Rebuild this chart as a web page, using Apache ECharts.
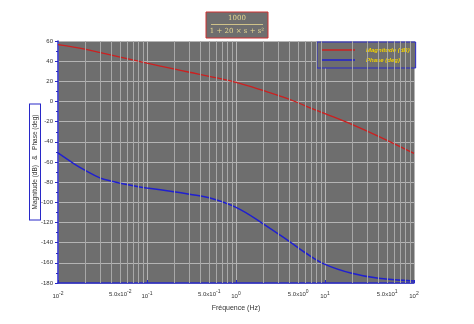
<!DOCTYPE html>
<html>
<head>
<meta charset="utf-8">
<script src="https://cdn.jsdelivr.net/npm/echarts@6/dist/echarts.min.js"></script>
<style>
html,body{margin:0;padding:0;background:#fff;}
#c{width:474px;height:324px;}
</style>
</head>
<body>
<div id="c"></div>
<script>
// ---- data ----
var freq      = [0.01, 0.015, 0.02, 0.03, 0.04, 0.05, 0.08, 0.1, 0.2, 0.3, 0.5, 1, 2, 4, 6, 10, 20, 40, 100];
var magnitude = [56.3, 54, 52, 48.5, 46, 44, 40, 38, 32.4, 29, 25, 19, 11, 2.2, -4.3, -12, -22.7, -34.6, -51.5];
var phase     = [-51, -61.5, -68, -76, -79, -81, -84.5, -85.8, -89.5, -92, -95.5, -105, -121, -139, -150, -161.5, -170.4, -175.4, -178];
var yTicks = [-180, -160, -140, -120, -100, -80, -60, -40, -20, 0, 20, 40, 60];
var minorGrid = [0.02,0.03,0.04,0.05,0.06,0.07,0.08,0.09,
                 0.2,0.3,0.4,0.5,0.6,0.7,0.8,0.9,
                 2,3,4,5,6,7,8,9,
                 20,30,40,50,60,70,80,90];
var halfLabels = [0.05, 0.5, 5, 50];
var titleNum = '1000';
var titleDen = '1 + 20 × s + s²';

function pair(a, b){ return a.map(function(v,i){ return [v, b[i]]; }); }
function sup(v){
  var e = Math.round(Math.log10(v));
  return '{b|10}{s|' + e + '}';
}
function halfSup(v){
  var e = Math.round(Math.log10(v/5));
  return '{b|5.0x10}{s|' + e + '}';
}
var rich = {
  b: {fontSize: 6, color: '#333', fontFamily: 'Liberation Sans'},
  s: {fontSize: 5, color: '#333', fontFamily: 'Liberation Sans', padding: [0,0,6,0]}
};

var chart = echarts.init(document.getElementById('c'), null, {renderer: 'canvas'});
var gridMarks = minorGrid.map(function(v){
  var showLab = halfLabels.indexOf(v) >= 0;
  return {xAxis: v, label: showLab ? {show: true, position: 'start', distance: 6, formatter: halfSup(v), rich: rich} : {show: false}};
});

chart.setOption({
  backgroundColor: '#ffffff',
  animation: false,
  graphic: [
    {type: 'rect', shape: {x: 206, y: 12, width: 62, height: 26}, style: {fill: '#6e6e6e', stroke: '#d03030', lineWidth: 1}},
    {type: 'text', x: 237, y: 18, style: {text: titleNum, fill: '#e8d890', font: '7px "DejaVu Serif"', textAlign: 'center', textVerticalAlign: 'middle'}},
    {type: 'line', shape: {x1: 211, y1: 24.5, x2: 263, y2: 24.5}, style: {stroke: '#e8d890', lineWidth: 0.8}},
    {type: 'text', x: 237, y: 31, style: {text: titleDen, fill: '#e8d890', font: '7px "DejaVu Serif"', textAlign: 'center', textVerticalAlign: 'middle'}}
  ],
  grid: {left: 58, right: 60, top: 41, bottom: 41, show: true, backgroundColor: '#6e6e6e', borderWidth: 0},
  legend: {
    data: [{name: 'Magnitude (dB)', icon: 'rect'}, {name: 'Phase (deg)', icon: 'rect'}],
    orient: 'vertical', left: 317, top: 42,
    padding: [5, 6, 5, 5],
    itemGap: 4,
    itemWidth: 33, itemHeight: 1.5,
    backgroundColor: '#6e6e6e', borderColor: '#2828c8', borderWidth: 1,
    textStyle: {color: '#f0d000', fontSize: 6, fontStyle: 'italic', fontWeight: 'bold', fontFamily: 'Liberation Sans', padding: [0,0,0,6]}
  },
  xAxis: {
    type: 'log', logBase: 10, min: 0.01, max: 100,
    name: 'Fréquence (Hz)', nameLocation: 'middle', nameGap: 20,
    nameTextStyle: {fontSize: 7, color: '#333', fontFamily: 'Liberation Sans'},
    axisLine: {show: true, onZero: false, lineStyle: {color: '#2828c8', width: 1.5}},
    axisTick: {show: true, inside: true, length: 3, lineStyle: {color: '#2828c8'}},
    axisLabel: {formatter: function(v){ return sup(v); }, rich: rich, margin: 8},
    splitLine: {show: true, lineStyle: {color: '#b4b4b4', width: 1}}
  },
  yAxis: {
    type: 'value', min: -180, max: 60, interval: 20,
    name: 'Magnitude (dB)   &   Phase (deg)', nameLocation: 'middle', nameRotate: 90, nameGap: 18,
    nameMoveOverlap: false,
    nameTextStyle: {fontSize: 6.5, color: '#333', fontFamily: 'Liberation Sans', borderColor: '#2828c8', borderWidth: 1, padding: [2, 10, 1, 10], backgroundColor: '#fff'},
    axisLine: {show: true, lineStyle: {color: '#2828c8', width: 1.5}},
    axisTick: {show: true, length: 3, lineStyle: {color: '#2828c8'}},
    minorTick: {show: true, splitNumber: 2, length: 2, lineStyle: {color: '#2828c8'}},
    axisLabel: {fontSize: 6, color: '#333', fontFamily: 'Liberation Sans', margin: 5},
    splitLine: {show: true, lineStyle: {color: '#b4b4b4', width: 1}}
  },
  series: [
    {
      name: 'grid', type: 'line', data: [], z: 1, silent: true,
      markLine: {silent: true, symbol: ['none', 'none'], animation: false,
        lineStyle: {color: '#a8a8a8', type: 'solid', width: 1},
        label: {show: false}, emphasis: {disabled: true},
        data: gridMarks}
    },
    {
      name: 'Magnitude (dB)', type: 'line', data: pair(freq, magnitude), smooth: 0.4,
      showSymbol: false, symbol: 'none', z: 3,
      lineStyle: {color: '#cc2020', width: 1.3}, itemStyle: {color: '#cc2020'}
    },
    {
      name: 'Phase (deg)', type: 'line', data: pair(freq, phase), smooth: 0.4,
      showSymbol: false, symbol: 'none', z: 3,
      lineStyle: {color: '#2020d0', width: 1.5}, itemStyle: {color: '#2020d0'}
    }
  ]
});
</script>
</body>
</html>
